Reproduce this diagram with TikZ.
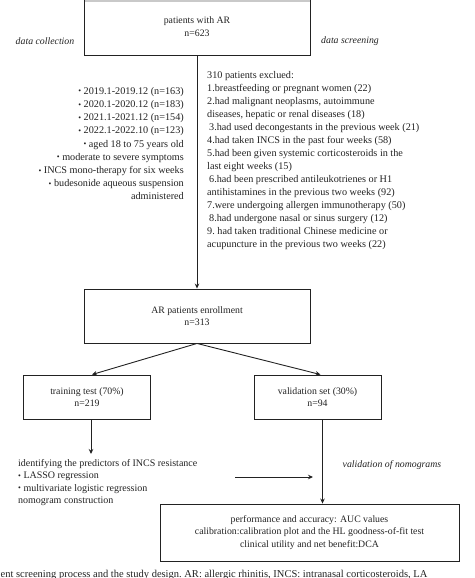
\documentclass[tikz,border=0pt]{standalone}
\usepackage{fontspec}
\setmainfont{Liberation Serif}
\usetikzlibrary{arrows.meta,positioning}
\definecolor{ink}{HTML}{222222}
\definecolor{band}{HTML}{C9C9C9}
\tikzset{
  >={Stealth[length=5pt,width=4.5pt]},
  every node/.style={font=\fontsize{9.8}{12.6}\selectfont,text=ink},
  box/.style={draw=ink,line width=0.9pt,align=center,inner sep=0pt},
  stage/.style={box,minimum width=226pt,minimum height=54pt},
  split/.style={box,minimum width=127pt,minimum height=44pt},
  side/.style={font=\fontsize{9.8}{12.6}\selectfont\itshape},
  list/.style={inner sep=0pt,font=\fontsize{10.2}{13.2}\selectfont},
  arrow/.style={->,line width=0.9pt,draw=ink},
}
\newcommand{\itm}{\raisebox{0.4pt}{\fontsize{8}{8}\selectfont\textbullet}\ }

\begin{document}
\begin{tikzpicture}[x=1pt,y=-1pt]
\useasboundingbox (0,0) rectangle (474,578);

\node[stage,minimum height=57pt] (patients) at (197,26.5) {patients with AR\\n=623};
\fill[band] (84.5,0) rectangle (309.5,2.5);
\node[side] (collect) at (45,41) {data collection};
\node[side] (screen) at (350,41) {data screening};

\node[list,align=right,anchor=north east] (criteria) at (184,87)
{\itm 2019.1-2019.12 (n=163)\\\itm 2020.1-2020.12 (n=183)\\\itm 2021.1-2021.12 (n=154)\\
 \itm 2022.1-2022.10 (n=123)\\\itm aged 18 to 75 years old\\\itm moderate to severe symptoms\\
 \itm INCS mono-therapy for six weeks\\\itm budesonide aqueous suspension\\administered};
\node[list,align=left,anchor=north west,font=\fontsize{10.2}{13}\selectfont] (excluded) at (207,71)
{310 patients exclued:\\1.breastfeeding or pregnant women (22)\\2.had malignant neoplasms, autoimmune\\
 diseases, hepatic or renal diseases (18)\\\hspace{2pt}3.had used decongestants in the previous week (21)\\
 4.had taken INCS in the past four weeks (58)\\5.had been given systemic corticosteroids in the\\
 last eight weeks (15)\\\hspace{2pt}6.had been prescribed antileukotrienes or H1\\
 antihistamines in the previous two weeks (92)\\7.were undergoing allergen immunotherapy (50)\\
 \hspace{2pt}8.had undergone nasal or sinus surgery (12)\\9.\ had taken traditional Chinese medicine or\\
 acupuncture in the previous two weeks (22)};

\node[stage] (enroll) at (197,316) {AR patients enrollment\\n=313};
\node[split] (train) at (87,397) {training test (70\%)\\n=219};
\node[split] (valid) at (317.5,397) {validation set (30\%)\\n=94};

\node[list,align=left,anchor=north west,font=\fontsize{10}{12.4}\selectfont] (predict) at (18,459)
{identifying the predictors of INCS resistance\\\itm LASSO regression\\
 \itm multivariate logistic regression\\nomogram construction};
\node[side] (nomo) at (392,465) {validation of nomograms};
\node[box,minimum width=299pt,minimum height=57pt] (result) at (309.5,532.5)
{performance and accuracy: AUC values\\calibration:calibration plot and the HL goodness-of-fit test\\
 clinical utility and net benefit:DCA};

\coordinate (fitfrom) at (235,477);
\coordinate (fitto) at (313,477);

\draw[arrow] (patients) -- (enroll);
\draw[arrow] (enroll.south) -- ([xshift=5pt]train.north);
\draw[arrow] (enroll.south) -- ([xshift=3pt]valid.north);
\draw[arrow,shorten >=5pt] ([xshift=4pt]train.south) -- ([xshift=4pt]train.south |- predict.north);
\draw[arrow] ([xshift=5pt]valid.south) -- ([xshift=5pt]valid.south |- result.north);
\draw[arrow] (fitfrom) -- (fitto);

\node[anchor=base west,inner sep=0pt,font=\fontsize{10.5}{12}\selectfont] (caption) at (0.5,577)
{ent screening process and the study design.\ AR: allergic rhinitis, INCS: intranasal corticosteroids, LA};

\end{tikzpicture}
\end{document}
